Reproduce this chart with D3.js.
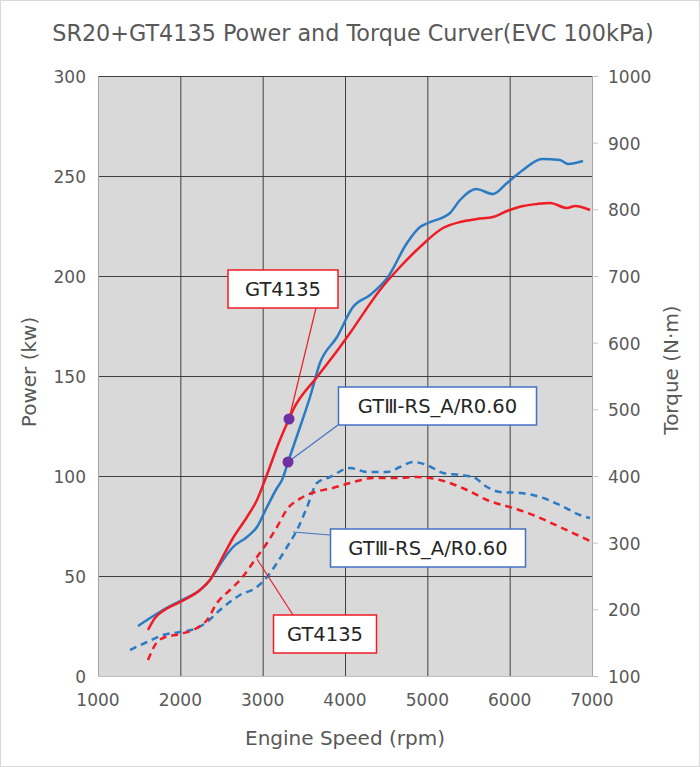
<!DOCTYPE html>
<html>
<head>
<meta charset="utf-8">
<script src="https://cdn.jsdelivr.net/npm/d3@7"></script>
<style>
  body { margin: 0; background: #fff; }
  svg { display: block; font-family: "DejaVu Sans", "Noto Sans CJK JP", sans-serif; }
</style>
</head>
<body>
<div id="chart"></div>
<script>
(function chart() {

    // chart size
    const WIDTH = 700;
    const HEIGHT = 767;

    // axis ticks
    const rpmTicks = [1000, 2000, 3000, 4000, 5000, 6000, 7000];
    const powerTicks = [0, 50, 100, 150, 200, 250, 300];
    const torqueTicks = [100, 200, 300, 400, 500, 600, 700, 800, 900, 1000];

    // power (kW) - solid lines
    const gt4135Power = [
        [1607, 23], [1692, 29], [1790, 32.5], [1996, 37], [2239, 43], [2360, 48],
        [2482, 57], [2640, 69], [2810, 79.5], [2931, 88], [3028, 98], [3200, 117],
        [3320, 128.5], [3369, 133], [3660, 149.5], [3939, 164.5], [4061, 171.5],
        [4425, 193], [4668, 204.5], [4911, 214.5], [5190, 224], [5397, 227],
        [5603, 228.5], [5798, 229.5], [5968, 232.5], [6162, 235], [6332, 236],
        [6490, 236.5], [6696, 234], [6794, 235], [6976, 233]
    ];
    const gt3Power = [
        [1486, 25], [1790, 33], [1996, 37.5], [2239, 43], [2360, 48], [2518, 58],
        [2640, 64.5], [2810, 69.5], [2931, 74.5], [3053, 84.5], [3174, 94],
        [3235, 98], [3308, 107], [3429, 121.5], [3575, 139.5], [3696, 156.5],
        [3903, 169.5], [4097, 184.5], [4304, 190.5], [4522, 199.5], [4753, 216.5],
        [4911, 224.5], [5008, 226.5], [5275, 231.5], [5397, 238], [5591, 243.5],
        [5798, 241], [5968, 246.5], [6162, 253], [6393, 258.5], [6611, 258],
        [6709, 256], [6891, 257.5]
    ];

    // torque (N·m) - dashed lines
    const gt4135Torque = [
        [1607, 124], [1717, 151], [1790, 157], [1996, 163], [2202, 172], [2324, 184],
        [2445, 209.5], [2603, 229], [2725, 244], [2931, 278.5], [3053, 299.5],
        [3174, 323.5], [3296, 350], [3454, 366], [3700, 378], [3818, 381],
        [4061, 389.5], [4340, 397], [4632, 397], [4875, 398.5], [5154, 394],
        [5482, 379], [5725, 364], [6041, 352], [6223, 344.5], [6611, 323.5],
        [6976, 302.5]
    ];
    const gt3Torque = [
        [1389, 139], [1595, 151], [1790, 161.5], [1996, 166], [2202, 172],
        [2324, 181], [2482, 199], [2725, 221.5], [2931, 233.5], [3053, 248.5],
        [3174, 269.5], [3296, 293.5], [3417, 319], [3539, 353.5], [3660, 389.5],
        [3818, 398.5], [4061, 412], [4267, 406], [4510, 406], [4668, 413.5],
        [4826, 421], [4996, 416.5], [5190, 404.5], [5397, 401.5], [5555, 398.5],
        [5725, 383.5], [5883, 376], [6126, 374.5], [6369, 368.5], [6611, 356.5],
        [6854, 341.5], [6976, 337]
    ];

    // marker points on the power curves
    const markers = [[3320, 128.5], [3308, 107]];

    const RED = "#ee1c25";
    const BLUE = "#2a7bc4";
    const BOXBLUE = "#4472c4";
    const TEXT = "#595959";

    const margin = { left: 98, right: 108, top: 76, bottom: 91 };
    const innerW = WIDTH - margin.left - margin.right;
    const innerH = HEIGHT - margin.top - margin.bottom;

    const x = d3.scaleLinear().domain([1000, 7000]).range([margin.left, margin.left + innerW]);
    const yP = d3.scaleLinear().domain([0, 300]).range([margin.top + innerH, margin.top]);
    const yT = d3.scaleLinear().domain([100, 1000]).range([margin.top + innerH, margin.top]);

    const svg = d3.select("#chart").append("svg")
        .attr("width", WIDTH)
        .attr("height", HEIGHT);

    // outer frame
    svg.append("rect")
        .attr("x", 0.5).attr("y", 0.5)
        .attr("width", WIDTH - 1).attr("height", HEIGHT - 1)
        .attr("fill", "#fff").attr("stroke", "#d9d9d9");

    // title
    svg.append("text")
        .attr("x", 353).attr("y", 41)
        .attr("text-anchor", "middle")
        .attr("fill", TEXT)
        .style("font-size", "22.3px")
        .text("SR20+GT4135 Power and Torque Curver(EVC 100kPa)");

    // plot background
    svg.append("rect")
        .attr("x", margin.left).attr("y", margin.top)
        .attr("width", innerW).attr("height", innerH)
        .attr("fill", "#d9d9d9");

    // grid
    svg.append("g").selectAll("line")
        .data(powerTicks)
        .join("line")
        .attr("x1", margin.left).attr("x2", margin.left + innerW)
        .attr("y1", d => yP(d) + 0.5).attr("y2", d => yP(d) + 0.5)
        .attr("stroke", d => d === 0 ? "#bfbfbf" : "#404040")
        .attr("stroke-width", 1);

    svg.append("g").selectAll("line")
        .data(rpmTicks)
        .join("line")
        .attr("x1", d => x(d) + 0.5).attr("x2", d => x(d) + 0.5)
        .attr("y1", margin.top).attr("y2", margin.top + innerH)
        .attr("stroke", d => (d === 1000 || d === 7000) ? "#a6a6a6" : "#404040")
        .attr("stroke-width", 1);

    // left axis labels
    svg.append("g").selectAll("text")
        .data(powerTicks)
        .join("text")
        .attr("x", 86).attr("y", d => yP(d) + 7)
        .attr("text-anchor", "end")
        .attr("fill", TEXT)
        .style("font-size", "17px")
        .text(d => d);

    // right axis ticks + labels
    const rAxis = svg.append("g");
    rAxis.selectAll("line")
        .data(torqueTicks)
        .join("line")
        .attr("x1", margin.left + innerW).attr("x2", margin.left + innerW + 6)
        .attr("y1", d => yT(d) + 0.5).attr("y2", d => yT(d) + 0.5)
        .attr("stroke", "#bfbfbf");
    rAxis.selectAll("text")
        .data(torqueTicks)
        .join("text")
        .attr("x", 608).attr("y", d => yT(d) + 7)
        .attr("fill", TEXT)
        .style("font-size", "17px")
        .text(d => d);

    // bottom axis labels
    svg.append("g").selectAll("text")
        .data(rpmTicks)
        .join("text")
        .attr("x", d => x(d)).attr("y", 706)
        .attr("text-anchor", "middle")
        .attr("fill", TEXT)
        .style("font-size", "17px")
        .text(d => d);

    // axis titles
    svg.append("text")
        .attr("transform", "translate(36,372) rotate(-90)")
        .attr("text-anchor", "middle")
        .attr("fill", TEXT)
        .style("font-size", "20px")
        .text("Power (kw)");

    svg.append("text")
        .attr("transform", "translate(678,370) rotate(-90)")
        .attr("text-anchor", "middle")
        .attr("fill", TEXT)
        .style("font-size", "20px")
        .text("Torque (N·m)");

    svg.append("text")
        .attr("x", 345).attr("y", 745)
        .attr("text-anchor", "middle")
        .attr("fill", TEXT)
        .style("font-size", "20px")
        .text("Engine Speed (rpm)");

    // curves
    const linePower = d3.line().x(d => x(d[0])).y(d => yP(d[1])).curve(d3.curveMonotoneX);
    const lineTorque = d3.line().x(d => x(d[0])).y(d => yT(d[1])).curve(d3.curveMonotoneX);

    const curves = [
        { data: gt3Torque, line: lineTorque, color: BLUE, dash: "7,5" },
        { data: gt4135Torque, line: lineTorque, color: RED, dash: "7,5" },
        { data: gt3Power, line: linePower, color: BLUE, dash: null },
        { data: gt4135Power, line: linePower, color: RED, dash: null }
    ];
    svg.append("g").selectAll("path")
        .data(curves)
        .join("path")
        .attr("d", d => d.line(d.data))
        .attr("fill", "none")
        .attr("stroke", d => d.color)
        .attr("stroke-width", 2.5)
        .attr("stroke-dasharray", d => d.dash);

    // callouts: leader lines
    const leaders = [
        { x1: 316, y1: 308, x2: x(markers[0][0]), y2: yP(markers[0][1]), color: RED },
        { x1: 338, y1: 425, x2: x(markers[1][0]), y2: yP(markers[1][1]), color: BOXBLUE },
        { x1: 330, y1: 535, x2: 293, y2: 532, color: BOXBLUE },
        { x1: 293, y1: 615, x2: 257, y2: 559, color: RED }
    ];
    svg.append("g").selectAll("line")
        .data(leaders)
        .join("line")
        .attr("x1", d => d.x1).attr("y1", d => d.y1)
        .attr("x2", d => d.x2).attr("y2", d => d.y2)
        .attr("stroke", d => d.color)
        .attr("stroke-width", 1.2);

    // marker dots
    svg.append("g").selectAll("circle")
        .data(markers)
        .join("circle")
        .attr("cx", d => x(d[0])).attr("cy", d => yP(d[1]))
        .attr("r", 5.5)
        .attr("fill", "#7030a0");

    // callout boxes
    const boxes = [
        { x: 228, y: 270, w: 110, h: 38, color: RED, label: "GT4135" },
        { x: 338.5, y: 387, w: 198, h: 38, color: BOXBLUE, label: "GTⅢ-RS_A/R0.60" },
        { x: 330.5, y: 529, w: 195, h: 38, color: BOXBLUE, label: "GTⅢ-RS_A/R0.60" },
        { x: 273.5, y: 615, w: 103, h: 38, color: RED, label: "GT4135" }
    ];
    const bx = svg.append("g").selectAll("g")
        .data(boxes)
        .join("g");
    bx.append("rect")
        .attr("x", d => d.x).attr("y", d => d.y)
        .attr("width", d => d.w).attr("height", d => d.h)
        .attr("fill", "#fff")
        .attr("stroke", d => d.color)
        .attr("stroke-width", 1.5);
    bx.append("text")
        .attr("x", d => d.x + d.w / 2).attr("y", d => d.y + d.h / 2 + 7)
        .attr("text-anchor", "middle")
        .attr("fill", "#262626")
        .style("font-size", "19.5px")
        .text(d => d.label);

})();
</script>
</body>
</html>
